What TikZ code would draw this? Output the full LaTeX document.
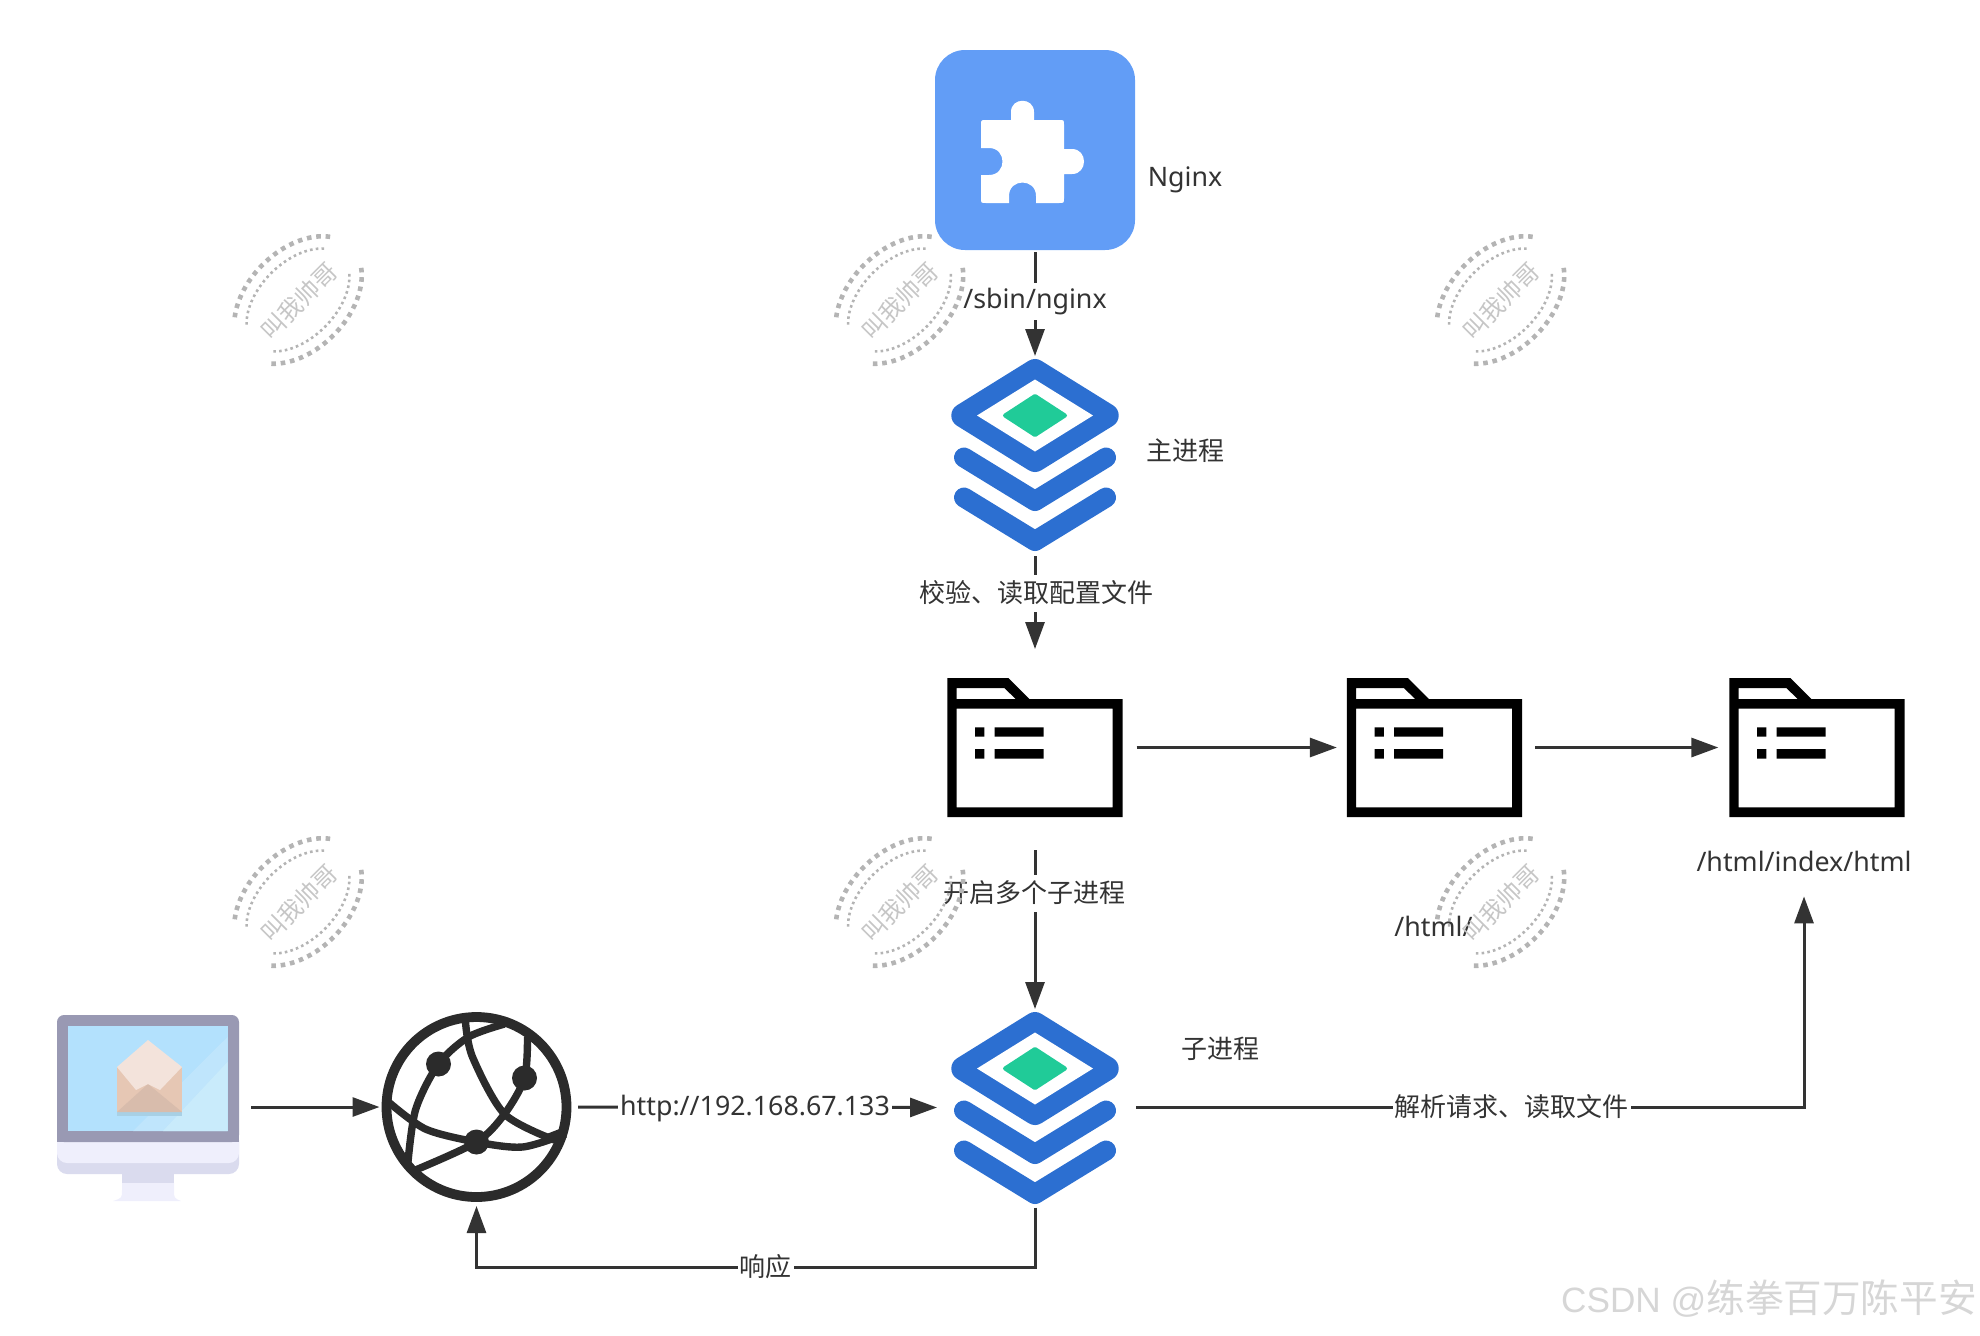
\documentclass[tikz,border=0pt]{standalone}
\usepackage{fontspec}
\setmainfont{Noto Sans}
\newfontfamily\cjk{Noto Sans CJK SC}
\newfontfamily\csdnlatin{Liberation Sans}
\usetikzlibrary{arrows.meta}
\definecolor{nginxblue}{HTML}{629DF6}
\definecolor{stackblue}{HTML}{2C6FD1}
\definecolor{stackgreen}{HTML}{20CB98}
\definecolor{ink}{HTML}{333333}
\definecolor{globeink}{HTML}{2B2B2B}
\definecolor{wmgrey}{HTML}{B4B4B4}
\definecolor{wmtext}{HTML}{C6C6C6}
\definecolor{csdngrey}{HTML}{D6D6D6}
\definecolor{monframe}{HTML}{9999B3}
\definecolor{monscreen}{HTML}{B3E1FD}
\definecolor{monband}{HTML}{BFE5FC}
\definecolor{monbandb}{HTML}{C9EBFB}
\definecolor{monchin}{HTML}{EFEFFC}
\definecolor{monlow}{HTML}{DADBEE}
\definecolor{envbody}{HTML}{E6C7B4}
\definecolor{envflap}{HTML}{F3E3DB}
\definecolor{envlow}{HTML}{D8BCAC}
\definecolor{envshade}{HTML}{A8D0E5}
\tikzset{
  iconbox/.style={inner sep=0pt,outer sep=0pt,minimum width=#1},
  conn/.style={draw=ink,line width=1.5pt,-{Triangle[length=13.5pt,width=9.5pt]}},
  lat/.style={font=\fontsize{13.4pt}{15pt}\selectfont,text=ink,inner sep=0pt},
  han/.style={font=\fontsize{13pt}{15pt}\selectfont\cjk,text=ink,inner sep=0pt},
  gap/.style={fill=white,minimum height=18.5pt,inner xsep=1pt},
  stackic/.pic={
    \draw[stackblue,fill=stackblue,line width=12pt,line join=round]
      (-71.7,-39) -- (0,-83.5) -- (71.7,-39) -- (0,5.5) -- cycle;
    \fill[white] (-58,-39) -- (0,-75) -- (58,-39) -- (0,-3) -- cycle;
    \draw[stackgreen,fill=stackgreen,line width=2pt,line join=round]
      (-30,-39) -- (0,-58.5) -- (30,-39) -- (0,-19.5) -- cycle;
    \draw[stackblue,line width=10pt,line join=round,line cap=round]
      (-71,3) -- (0,46.5) -- (71,3);
    \draw[stackblue,line width=10pt,line join=round,line cap=round]
      (-71,43) -- (0,86.5) -- (71,43);
  },
  folderic/.pic={
    \fill[white] (0,0) -- (61,0) -- (82,21) -- (175.3,21) -- (175.3,139) -- (0,139) -- cycle;
    \fill[black,even odd rule]
      (0,0) -- (61,0) -- (82,21) -- (175.3,21) -- (175.3,139) -- (0,139) -- cycle
      (9.3,10) -- (57,10) -- (68.3,21) -- (9.3,21) -- cycle
      (9.3,30.7) -- (165.3,30.7) -- (165.3,129.3) -- (9.3,129.3) -- cycle;
    \fill[black] (27.7,49.3) rectangle (37,58.7) (47.3,49.3) rectangle (96.3,58.7)
      (27.7,71) rectangle (37,80.7) (47.3,71) rectangle (96.3,80.7);
  },
  wmark/.pic={
    \draw[wmgrey,line width=2.3pt,dash pattern=on 2.3pt off 2.4pt]
      plot[domain=-26:-143,samples=50] ({(75*cos(\x)+50*sin(\x))*0.7071},{(-75*cos(\x)+50*sin(\x))*0.7071});
    \draw[wmgrey,line width=2.3pt,dash pattern=on 2.3pt off 2.4pt]
      plot[domain=26:150,samples=50] ({(75*cos(\x)+50*sin(\x))*0.7071},{(-75*cos(\x)+50*sin(\x))*0.7071});
    \draw[wmgrey,line width=1.3pt,dash pattern=on 1.3pt off 1.6pt]
      plot[domain=-28:-150,samples=50] ({(62*cos(\x)+38*sin(\x))*0.7071},{(-62*cos(\x)+38*sin(\x))*0.7071});
    \draw[wmgrey,line width=1.3pt,dash pattern=on 1.3pt off 1.6pt]
      plot[domain=28:150,samples=50] ({(62*cos(\x)+38*sin(\x))*0.7071},{(-62*cos(\x)+38*sin(\x))*0.7071});
    \node[rotate=45,text=wmtext,inner sep=0pt,font=\fontsize{12pt}{14pt}\selectfont\cjk] (txt) at (1,1) {叫我帅哥};
  }
}
\begin{document}
\begin{tikzpicture}[x=0.5pt,y=-0.5pt]
\useasboundingbox (0,0) rectangle (1980,1335);
% Nginx icon
\node[fill=nginxblue,rounded corners=15pt,minimum width=100pt,minimum height=100pt,inner sep=0pt,outer sep=0pt] (nginx) at (1035,150) {};
\fill[white] (1011,120) -- (1011,112) .. controls (1011,97) and (1034,97) .. (1034,112) -- (1034,120)
  -- (1059,120) .. controls (1064,120) .. (1064,125) -- (1064,149) -- (1072,149)
  .. controls (1088,149) and (1088,174) .. (1072,174) -- (1064,174) -- (1064,198)
  .. controls (1064,203) .. (1059,203) -- (1036,203) -- (1036,196)
  .. controls (1036,178) and (1009,178) .. (1009,196) -- (1009,203) -- (986,203)
  .. controls (981,203) .. (981,198) -- (981,175) -- (989,175)
  .. controls (1007,175) and (1007,148) .. (989,148) -- (981,148) -- (981,125)
  .. controls (981,120) .. (986,120) -- cycle;
% stacks
\node[iconbox=83.5pt,minimum height=95.5pt] (master) at (1035,454.5) {};
\pic at (master.center) {stackic};
\node[iconbox=83.5pt,minimum height=95.5pt] (worker) at (1035,1107.5) {};
\pic at (worker.center) {stackic};
% folders
\node[iconbox=87.65pt,minimum height=69.5pt] (conf) at (1035,747.5) {};
\pic at (conf.north west) {folderic};
\node[iconbox=87.65pt,minimum height=69.5pt] (htmldir) at (1434.5,747.5) {};
\pic at (htmldir.north west) {folderic};
\node[iconbox=87.65pt,minimum height=69.5pt] (indexfile) at (1817,747.5) {};
\pic at (indexfile.north west) {folderic};
% monitor
\node[iconbox=91pt,minimum height=93pt] (monitor) at (148,1107) {};
\fill[monlow,rounded corners=5pt] (57,1130) rectangle (239,1174);
\fill[monchin,rounded corners=5pt] (57,1130) rectangle (239,1163);
\fill[monframe,rounded corners=3.5pt] (57,1015) -- (239,1015) -- (239,1142) -- (57,1142) -- cycle;
\fill[monframe] (57,1130) rectangle (239,1142);
\fill[monscreen] (67.5,1026) rectangle (227.5,1131);
\fill[monband] (133,1131) -- (227.5,1037) -- (227.5,1131) -- cycle;
\fill[monbandb] (163,1131) -- (227.5,1062) -- (227.5,1131) -- cycle;
\fill[monlow] (122,1174) rectangle (174,1183);
\fill[monchin] (122,1183) -- (174,1183) -- (174,1190) .. controls (174,1198) .. (181,1201) -- (113,1201) .. controls (122,1198) .. (122,1190) -- cycle;
\fill[envshade] (117,1112) rectangle (182,1116);
\fill[envbody] (117,1067) rectangle (182,1112);
\fill[envlow] (148,1084) -- (182,1112) -- (117,1112) -- cycle;
\fill[envflap] (148,1040) -- (182,1067) -- (160,1090) -- (148,1084) -- (136,1090) -- (117,1067) -- cycle;
% globe
\node[circle,minimum size=95pt,inner sep=0pt,outer sep=0pt] (globe) at (476.5,1107) {};
\begin{scope}[shift={(globe.center)},globeink,line width=3.7pt]
  \draw[line width=4.9pt] (0,0) circle[radius=45pt];
  \draw plot[smooth] coordinates {(-11,-85) (-4,-50) (28,7) (78,33)};
  \draw plot[smooth] coordinates {(28,-83) (-8,-70) (-38,-43) (-61,3) (-69,60)};
  \draw plot[smooth] coordinates {(-88,-5) (-51,22) (0,35) (46,40) (89,27)};
  \draw plot[smooth] coordinates {(51,-70) (48,-29) (28,7) (0,35) (-61,63)};
  \fill (-38,-43) circle[radius=6.25pt];
  \fill (48,-29) circle[radius=6.25pt];
  \fill (0,35) circle[radius=6.25pt];
  \fill (70,27) -- (88,20) -- (80,40) -- cycle;
\end{scope}
% labels without a line behind them
\node[lat] (lnginx) at (1185,179.5) {Nginx};
\node[han] (lmaster) at (1185,451) {主进程};
\node[han] (lworker) at (1220.5,1049) {子进程};
\node[lat] (lhtml) at (1433.5,926) {/html/};
\node[lat,minimum height=18.5pt] (lindex) at (1804,861) {/html/index/html};
\coordinate (turn) at (1035,1267);
% connectors
\draw[conn,shorten <=1pt,shorten >=1.5pt] (nginx.south) -- (master.north);
\draw[conn,shorten <=3pt,shorten >=14.5pt] (master.south) -- (conf.north);
\draw[conn,shorten <=7pt,shorten >=5pt] (conf.east) -- (htmldir.west);
\draw[conn,shorten <=6.5pt,shorten >=5.5pt] (htmldir.east) -- (indexfile.west);
\draw[conn,shorten <=16.5pt,shorten >=1.5pt] (conf.south) -- (worker.north);
\draw[conn,shorten <=6pt,shorten >=1pt] (monitor.east) -- (globe.west);
\draw[conn,shorten <=3.25pt,shorten >=7.25pt] (globe.east) -- (worker.west);
\draw[conn,shorten <=8.75pt,shorten >=8.25pt] (worker.east) -| (lindex.south);
\draw[conn,shorten <=2.25pt,shorten >=2pt] (worker.south) -- (turn) -| (globe.south);
% labels on connectors
\node[lat,gap] (lsbin) at (1035,301.5) {/sbin/nginx};
\node[han,gap] (lcheck) at (1036,593) {校验、读取配置文件};
\node[han,gap] (lfork) at (1034.5,893) {开启多个子进程};
\node[lat,gap] (lhttp) at (755,1108.5) {http://192.168.67.133};
\node[han,gap] (lparse) at (1511.5,1107) {解析请求、读取文件};
\node[han,gap] (lresp) at (765.5,1267) {响应};
% watermarks
\pic (wa) at (298,300) {wmark};
\pic (wb) at (899.5,300) {wmark};
\pic (wc) at (1500.5,300) {wmark};
\pic (wd) at (298,902) {wmark};
\pic (we) at (899.5,902) {wmark};
\pic (wf) at (1500.5,902) {wmark};
\node[anchor=east,inner sep=0pt,text=csdngrey] (csdn) at (1977,1299) {\fontsize{17.6pt}{20pt}\selectfont\csdnlatin CSDN @\fontsize{19.3pt}{20pt}\selectfont\cjk 练拳百万陈平安};
\end{tikzpicture}
\end{document}
